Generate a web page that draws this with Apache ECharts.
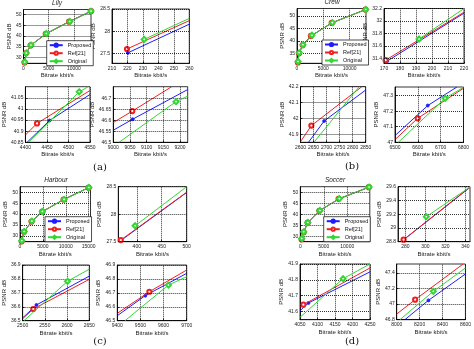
<!DOCTYPE html>
<html><head><meta charset="utf-8">
<script src="https://cdn.jsdelivr.net/npm/echarts@6/dist/echarts.min.js"></script>
<style>html,body{margin:0;padding:0;background:#fff}#c{width:474px;height:349px}</style>
</head><body><div id="c"></div>
<script>
// ---------- Full-range RD curves (bitrate kbit/s, PSNR dB) ----------
const lilyRateP = [220, 530, 1450, 4456, 9058, 13400];
const lilyPsnrP = [27.52, 31.9, 35.6, 40.95, 46.60, 51.5];
const lilyRateR = [220, 530, 1450, 4427, 9057, 13400];
const lilyPsnrR = [27.60, 31.95, 35.6, 40.935, 46.64, 51.5];
const lilyRateO = [231, 545, 1480, 4525, 9188, 13400];
const lilyPsnrO = [27.82, 32.0, 35.7, 41.08, 46.685, 51.55];

const crewRateP = [172, 385, 1090, 2690, 6643, 13000];
const crewPsnrP = [31.357, 35.05, 38.3, 41.984, 47.236, 52.5];
const crewRateR = [171, 385, 1090, 2642, 6600, 13000];
const crewPsnrR = [31.37, 35.05, 38.3, 41.955, 47.154, 52.5];
const crewRateO = [192, 400, 1120, 2840, 6720, 13050];
const crewPsnrO = [31.71, 35.2, 38.4, 42.23, 47.283, 52.55];

const harbRateP = [368, 870, 2531, 4860, 9521, 15000];
const harbPsnrP = [27.52, 31.85, 36.613, 41.1, 46.68, 52.15];
const harbRateR = [368, 870, 2524, 4860, 9538, 15000];
const harbPsnrR = [27.53, 31.85, 36.584, 41.1, 46.708, 52.15];
const harbRateO = [397, 900, 2601, 4900, 9621, 15050];
const harbPsnrO = [27.79, 32.0, 36.783, 41.2, 46.756, 52.2];

const soccRateP = [278, 714, 1570, 4074, 8277, 14600];
const soccPsnrP = [28.824, 32.0, 36.3, 41.653, 47.048, 52.3];
const soccRateR = [278, 714, 1570, 4060, 8161, 14600];
const soccPsnrR = [28.83, 32.0, 36.3, 41.642, 47.057, 52.3];
const soccRateO = [301, 730, 1600, 4173, 8320, 14650];
const soccPsnrO = [29.164, 32.2, 36.4, 41.807, 47.164, 52.35];

// ---------- Zoomed views: [bitrate, PSNR, 1 = measured point with marker] ----------
const lilyLowP = [[220.3, 27.52, 1], [260, 28.16, 0]];
const lilyLowR = [[219.7, 27.605, 1], [260, 28.24, 0]];
const lilyLowO = [[230.8, 27.82, 1], [260, 28.29, 0]];
const lilyMidP = [[4404, 40.85, 0], [4456, 40.948, 1], [4550, 41.065, 0]];
const lilyMidR = [[4400, 40.883, 0], [4427, 40.935, 1], [4550, 41.083, 0]];
const lilyMidO = [[4408, 40.85, 0], [4525, 41.077, 1], [4546, 41.1, 0]];
const lilyHighP = [[9000, 46.555, 0], [9058, 46.605, 1], [9223, 46.74, 0]];
const lilyHighR = [[9000, 46.59, 0], [9057, 46.642, 1], [9175, 46.753, 0]];
const lilyHighO = [[9017, 46.5, 0], [9188, 46.685, 1], [9223, 46.71, 0]];

const crewLowP = [[172, 31.355, 1], [220, 32.125, 0]];
const crewLowR = [[171, 31.37, 1], [220, 32.14, 0]];
const crewLowO = [[191.9, 31.71, 1], [220, 32.2, 0]];
const crewMidP = [[2630.6, 41.85, 0], [2690.7, 41.984, 1], [2850, 42.179, 0]];
const crewMidR = [[2600, 41.854, 0], [2641.7, 41.955, 1], [2835, 42.2, 0]];
const crewMidO = [[2651.5, 41.85, 0], [2825, 42.2, 0]];
const crewHighP = [[6500, 47.043, 0], [6643.5, 47.236, 1], [6771, 47.355, 0]];
const crewHighR = [[6500, 47.017, 0], [6599.5, 47.154, 1], [6800, 47.347, 0]];
const crewHighO = [[6514.6, 47.0, 0], [6719.6, 47.283, 1], [6800, 47.353, 0]];

const harbLowP = [[368, 27.52, 1], [500, 28.395, 0]];
const harbLowR = [[368, 27.53, 1], [500, 28.40, 0]];
const harbLowO = [[396.7, 27.79, 1], [500, 28.5, 0]];
const harbMidP = [[2500, 36.52, 0], [2531, 36.613, 1], [2650, 36.82, 0]];
const harbMidR = [[2500, 36.514, 0], [2524, 36.584, 1], [2650, 36.797, 0]];
const harbMidO = [[2503, 36.5, 0], [2601, 36.783, 1], [2650, 36.87, 0]];
const harbHighP = [[9400, 46.536, 0], [9521, 46.68, 1], [9700, 46.84, 0]];
const harbHighR = [[9400, 46.553, 0], [9538.5, 46.708, 1], [9700, 46.864, 0]];
const harbHighO = [[9433, 46.5, 0], [9621, 46.756, 1], [9700, 46.816, 0]];

const soccLowP = [[278, 28.824, 1], [344.7, 29.59, 0]];
const soccLowR = [[278.3, 28.83, 1], [344.7, 29.595, 0]];
const soccLowO = [[301, 29.164, 1], [344.7, 29.596, 0]];
const soccMidP = [[4050, 41.604, 0], [4074, 41.653, 1], [4250, 41.85, 0]];
const soccMidR = [[4050, 41.625, 0], [4059.6, 41.642, 1], [4250, 41.875, 0]];
const soccMidO = [[4050, 41.562, 0], [4173, 41.807, 1], [4250, 41.9, 0]];
const soccHighP = [[8071, 46.8, 0], [8277, 47.048, 1], [8600, 47.387, 0]];
const soccHighR = [[8000, 46.873, 0], [8161, 47.057, 1], [8580, 47.515, 0]];
const soccHighO = [[8028, 46.8, 0], [8320, 47.164, 1], [8600, 47.464, 0]];

// ---------- Tick values ----------
const lilyFullX = [0, 5000, 10000], lilyFullY = [30, 35, 40, 45, 50];
const lilyLowX = [210, 220, 230, 240, 250, 260], lilyLowY = [27.5, 28, 28.5];
const lilyMidX = [4400, 4450, 4500, 4550], lilyMidY = [40.85, 40.9, 40.95, 41, 41.05];
const lilyHighX = [9000, 9050, 9100, 9150, 9200], lilyHighY = [46.5, 46.55, 46.6, 46.65, 46.7];
const crewFullX = [0, 5000, 10000], crewFullY = [35, 40, 45, 50];
const crewLowX = [170, 180, 190, 200, 210, 220], crewLowY = [31.4, 31.6, 31.8, 32, 32.2];
const crewMidX = [2600, 2650, 2700, 2750, 2800, 2850], crewMidY = [41.9, 42, 42.1, 42.2];
const crewHighX = [6500, 6600, 6700, 6800], crewHighY = [47, 47.1, 47.2, 47.3];
const harbFullX = [0, 5000, 10000, 15000], harbFullY = [30, 35, 40, 45, 50];
const harbLowX = [400, 450, 500], harbLowY = [27.5, 28, 28.5];
const harbMidX = [2500, 2550, 2600, 2650], harbMidY = [36.5, 36.6, 36.7, 36.8, 36.9];
const harbHighX = [9400, 9500, 9600, 9700], harbHighY = [46.5, 46.6, 46.7, 46.8, 46.9];
const soccFullX = [0, 5000, 10000], soccFullY = [30, 35, 40, 45, 50];
const soccLowX = [280, 300, 320, 340], soccLowY = [28.8, 29, 29.2, 29.4, 29.6];
const soccMidX = [4050, 4100, 4150, 4200, 4250], soccMidY = [41.6, 41.7, 41.8, 41.9];
const soccHighX = [8000, 8200, 8400, 8600], soccHighY = [46.8, 47, 47.2, 47.4];

const methodNames = ['Proposed', 'Ref[21]', 'Original'];
const seqTitles = ['Lily', 'Crew', 'Harbour', 'Soccer'];
const panelTags = ['(a)', '(b)', '(c)', '(d)'];

// ---------- Build ----------
const COLOR = ['#1d1dff', '#ee2020', '#33d633'];
const SYMB = ['circle', 'emptyCircle', 'emptyDiamond'];
const SSIZE = [3, 4.2, 5];
const FONT = 'Liberation Sans, Arial, sans-serif';
const zip = (r, p) => r.map((v, i) => [v, p[i], 1]);

const plots = [
  {rect: [23.5, 9.5, 67.5, 53.8], x: [0, 13400], xt: lilyFullX, y: [27.2, 52.3], yt: lilyFullY,
   lines: [zip(lilyRateP, lilyPsnrP), zip(lilyRateR, lilyPsnrR), zip(lilyRateO, lilyPsnrO)], leg: [46.7, 40.7]},
  {rect: [112, 9, 77.3, 54.3], x: [210, 260], xt: lilyLowX, y: [27.285, 28.5], yt: lilyLowY, lines: [lilyLowP, lilyLowR, lilyLowO]},
  {rect: [25, 86.7, 65, 55.6], x: [4400, 4550], xt: lilyMidX, y: [40.85, 41.1], yt: lilyMidY, lines: [lilyMidP, lilyMidR, lilyMidO]},
  {rect: [113.3, 86.7, 74.4, 55.6], x: [9000, 9223], xt: lilyHighX, y: [46.5, 46.753], yt: lilyHighY, lines: [lilyHighP, lilyHighR, lilyHighO]},

  {rect: [297, 8.5, 69, 54.8], x: [0, 13100], xt: crewFullX, y: [31.0, 52.95], yt: crewFullY,
   lines: [zip(crewRateP, crewPsnrP), zip(crewRateR, crewPsnrR), zip(crewRateO, crewPsnrO)], leg: [322, 40]},
  {rect: [384, 8.5, 80, 54.8], x: [170, 220], xt: crewLowX, y: [31.32, 32.2], yt: crewLowY, lines: [crewLowP, crewLowR, crewLowO]},
  {rect: [300.5, 86.7, 65.2, 55.6], x: [2600, 2850], xt: crewMidX, y: [41.85, 42.2], yt: crewMidY, lines: [crewMidP, crewMidR, crewMidO]},
  {rect: [395, 87, 68.5, 55.3], x: [6500, 6800], xt: crewHighX, y: [47, 47.355], yt: crewHighY, lines: [crewHighP, crewHighR, crewHighO]},

  {rect: [20, 186.7, 70.5, 55], x: [0, 15400], xt: harbFullX, y: [27.34, 52.58], yt: harbFullY,
   lines: [zip(harbRateP, harbPsnrP), zip(harbRateR, harbPsnrR), zip(harbRateO, harbPsnrO)], leg: [45, 216.7]},
  {rect: [118.3, 186.7, 68.4, 55], x: [363, 500], xt: harbLowX, y: [27.5, 28.5], yt: harbLowY, lines: [harbLowP, harbLowR, harbLowO]},
  {rect: [20, 265, 69.3, 55.7], x: [2500, 2650], xt: harbMidX, y: [36.5, 36.9], yt: harbMidY, lines: [harbMidP, harbMidR, harbMidO]},
  {rect: [117.3, 265, 69.4, 55.7], x: [9400, 9700], xt: harbHighX, y: [46.5, 46.9], yt: harbHighY, lines: [harbHighP, harbHighR, harbHighO]},

  {rect: [300.3, 186.7, 69.5, 55], x: [0, 14800], xt: soccFullX, y: [27.75, 52.52], yt: soccFullY,
   lines: [zip(soccRateP, soccPsnrP), zip(soccRateR, soccPsnrR), zip(soccRateO, soccPsnrO)], leg: [323.7, 216.7]},
  {rect: [398, 186.7, 72, 55], x: [272.7, 344.7], xt: soccLowX, y: [28.8, 29.6], yt: soccLowY, lines: [soccLowP, soccLowR, soccLowO]},
  {rect: [300, 264, 70, 55.7], x: [4050, 4250], xt: soccMidX, y: [41.547, 41.9], yt: soccMidY, lines: [soccMidP, soccMidR, soccMidO]},
  {rect: [396.7, 264, 71.6, 55.7], x: [8000, 8600], xt: soccHighX, y: [46.8, 47.515], yt: soccHighY, lines: [soccHighP, soccHighR, soccHighO]}
];

const fmt = v => String(+(+v).toFixed(4));
const grids = [], xAxes = [], yAxes = [], series = [], legends = [];
const TICKF = 5, NAMEF = 6;

plots.forEach((p, i) => {
  grids.push({left: p.rect[0], top: p.rect[1], width: p.rect[2], height: p.rect[3],
    show: true, backgroundColor: 'transparent', borderColor: '#000', borderWidth: 0.8, containLabel: false});
  xAxes.push({gridIndex: i, type: 'value', min: p.x[0], max: p.x[1],
    axisLine: {show: true, onZero: false, lineStyle: {color: '#000', width: 0.8}},
    axisTick: {show: true, inside: true, length: 2, customValues: p.xt, lineStyle: {color: '#000', width: 0.8}},
    axisLabel: {customValues: p.xt, formatter: fmt, fontSize: TICKF, color: '#222', margin: 2.5, fontFamily: FONT},
    splitLine: {show: false},
    name: 'Bitrate kbit/s', nameLocation: 'middle', nameGap: 9.5,
    nameTextStyle: {fontSize: NAMEF, color: '#222', fontFamily: FONT}});
  const maxLen = Math.max(...p.yt.map(v => fmt(v).length));
  yAxes.push({gridIndex: i, type: 'value', min: p.y[0], max: p.y[1],
    axisLine: {show: true, onZero: false, lineStyle: {color: '#000', width: 0.8}},
    axisTick: {show: true, inside: true, length: 2, customValues: p.yt, lineStyle: {color: '#000', width: 0.8}},
    axisLabel: {customValues: p.yt, formatter: fmt, fontSize: TICKF, color: '#222', margin: 2, fontFamily: FONT},
    splitLine: {show: false},
    name: 'PSNR dB', nameLocation: 'middle', nameGap: maxLen * 2.6 + 4,
    nameTextStyle: {fontSize: NAMEF, color: '#222', fontFamily: FONT}});
  p.lines.forEach((pts, m) => {
    const s = {type: 'line', name: methodNames[m], xAxisIndex: i, yAxisIndex: i,
      symbol: SYMB[m], symbolSize: SSIZE[m], showAllSymbol: true, clip: true, z: 3 + m,
      lineStyle: {color: COLOR[m], width: 1},
      itemStyle: {color: COLOR[m], borderColor: COLOR[m], borderWidth: 0.8},
      emphasis: {disabled: true},
      data: pts.map(q => ({value: [q[0], q[1]], symbol: q[2] ? SYMB[m] : 'none'}))};
    if (m === 0) {
      // dotted grid at the tick values, placed through the axes
      s.markLine = {silent: true, symbol: ['none', 'none'], animation: false,
        label: {show: false}, emphasis: {disabled: true},
        lineStyle: {type: 'dotted', color: '#000', width: 1, opacity: 0.8},
        data: p.xt.map(v => ({xAxis: v})).concat(p.yt.map(v => ({yAxis: v})))};
    }
    series.push(s);
  });
  if (p.leg) {
    legends.push({data: methodNames, orient: 'vertical', left: p.leg[0], top: p.leg[1],
      itemWidth: 13, itemHeight: 4, itemGap: 2, padding: [1.5, 2, 1.5, 2],
      backgroundColor: '#fff', borderColor: '#000', borderWidth: 0.7, selectedMode: false, z: 10,
      textStyle: {fontSize: 5.5, lineHeight: 6, color: '#111', fontFamily: FONT}});
  }
});

const texts = [];
const titlePos = [[57, 3], [332, 2.5], [56, 180.5], [335, 180.5]];
seqTitles.forEach((t, k) => texts.push({type: 'text', x: titlePos[k][0], y: titlePos[k][1],
  style: {text: t, fontSize: 6.5, fontStyle: 'italic', fontFamily: FONT, fill: '#222', align: 'center', verticalAlign: 'middle'}}));
const tagPos = [[100, 167], [352, 166], [100, 341], [352, 341]];
panelTags.forEach((t, k) => texts.push({type: 'text', x: tagPos[k][0], y: tagPos[k][1],
  style: {text: t, fontSize: 10, fontFamily: 'DejaVu Serif, Liberation Serif, serif', fill: '#111', align: 'center', verticalAlign: 'middle'}}));

const chart = echarts.init(document.getElementById('c'), null, {renderer: 'canvas'});
chart.setOption({animation: false, backgroundColor: '#fff', grid: grids, xAxis: xAxes, yAxis: yAxes,
  series: series, legend: legends, graphic: texts});
</script></body></html>
